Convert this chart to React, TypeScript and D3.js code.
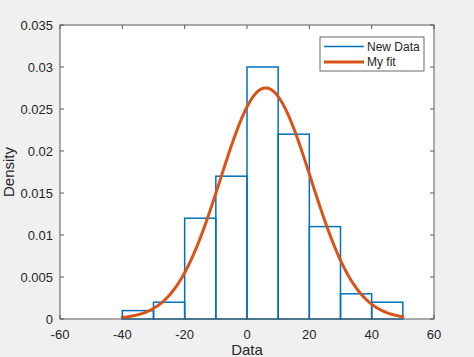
import React from "react";
import * as d3 from "d3";

const binEdges = [-40, -30, -20, -10, 0, 10, 20, 30, 40, 50];
const binDensity = [0.001, 0.002, 0.012, 0.017, 0.03, 0.022, 0.011, 0.003, 0.002];
const fitMean = 6;
const fitSigma = 14.5;
const fitRange = [-40, 50];
const xTicks = [-60, -40, -20, 0, 20, 40, 60];
const yTicks = [0, 0.005, 0.01, 0.015, 0.02, 0.025, 0.03, 0.035];
const legendLabels = ["New Data", "My fit"];

const W = 474;
const H = 357;
const M = { left: 60, right: 434, top: 25, bottom: 319 };
const BLUE = "#0072BD";
const ORANGE = "#D95319";
const TXT = "#262626";
const FONT = "'Liberation Sans', Arial, Helvetica, sans-serif";

export default function App() {
  const x = d3.scaleLinear().domain([-60, 60]).range([M.left, M.right]);
  const y = d3.scaleLinear().domain([0, 0.035]).range([M.bottom, M.top]);

  const pdf = (v: number) =>
    Math.exp(-((v - fitMean) ** 2) / (2 * fitSigma * fitSigma)) / (fitSigma * Math.sqrt(2 * Math.PI));
  const pts = d3.range(0, 201).map((i) => {
    const v = fitRange[0] + ((fitRange[1] - fitRange[0]) * i) / 200;
    return [v, pdf(v)] as [number, number];
  });
  const line = d3
    .line<[number, number]>()
    .x((d) => x(d[0]))
    .y((d) => y(d[1]))
    .curve(d3.curveLinear);

  const fmtY = (v: number) => (v === 0 ? "0" : String(+v.toFixed(3)));
  const tl = 4;

  return (
    <svg
      width={W}
      height={H}
      style={{ position: "absolute", left: 0, top: 0, display: "block" }}
      fontFamily={FONT}
    >
      <rect x={0} y={0} width={W} height={H} fill="#f0f0f0" />
      <rect x={M.left} y={M.top} width={M.right - M.left} height={M.bottom - M.top} fill="#ffffff" />

      {/* histogram */}
      {binDensity.map((d, i) => (
        <rect
          key={i}
          x={x(binEdges[i])}
          y={y(d)}
          width={x(binEdges[i + 1]) - x(binEdges[i])}
          height={y(0) - y(d)}
          fill="none"
          stroke={BLUE}
          strokeWidth={1.5}
        />
      ))}

      {/* fit */}
      <path d={line(pts) || ""} fill="none" stroke={ORANGE} strokeWidth={3} strokeLinejoin="round" strokeLinecap="round" />

      {/* axes box */}
      <rect
        x={M.left}
        y={M.top}
        width={M.right - M.left}
        height={M.bottom - M.top}
        fill="none"
        stroke="#5a5a5a"
        strokeWidth={1}
      />

      {/* x ticks */}
      {xTicks.map((t) => (
        <g key={"x" + t}>
          <line x1={x(t)} x2={x(t)} y1={M.bottom} y2={M.bottom - tl} stroke="#5a5a5a" />
          <line x1={x(t)} x2={x(t)} y1={M.top} y2={M.top + tl} stroke="#5a5a5a" />
          <text x={x(t)} y={M.bottom + 20} textAnchor="middle" fontSize={13} fill={TXT}>
            {t}
          </text>
        </g>
      ))}

      {/* y ticks */}
      {yTicks.map((t) => (
        <g key={"y" + t}>
          <line x1={M.left} x2={M.left + tl} y1={y(t)} y2={y(t)} stroke="#5a5a5a" />
          <line x1={M.right} x2={M.right - tl} y1={y(t)} y2={y(t)} stroke="#5a5a5a" />
          <text x={M.left - 7} y={y(t)} dy="0.35em" textAnchor="end" fontSize={13} fill={TXT}>
            {fmtY(t)}
          </text>
        </g>
      ))}

      {/* axis labels */}
      <text x={(M.left + M.right) / 2} y={355} textAnchor="middle" fontSize={15} fill={TXT}>
        Data
      </text>
      <text
        transform={`translate(14,${(M.top + M.bottom) / 2}) rotate(-90)`}
        textAnchor="middle"
        fontSize={15}
        fill={TXT}
      >
        Density
      </text>

      {/* legend */}
      <g>
        <rect x={320} y={37} width={104} height={34} fill="#ffffff" stroke="#6a6a6a" strokeWidth={1} />
        {legendLabels.map((lab, i) => (
          <g key={lab}>
            <line
              x1={324}
              x2={364}
              y1={46.5 + i * 15.5}
              y2={46.5 + i * 15.5}
              stroke={i === 0 ? BLUE : ORANGE}
              strokeWidth={i === 0 ? 1.5 : 3}
            />
            <text x={367} y={46.5 + i * 15.5} dy="0.35em" fontSize={12} fill={TXT}>
              {lab}
            </text>
          </g>
        ))}
      </g>
    </svg>
  );
}
